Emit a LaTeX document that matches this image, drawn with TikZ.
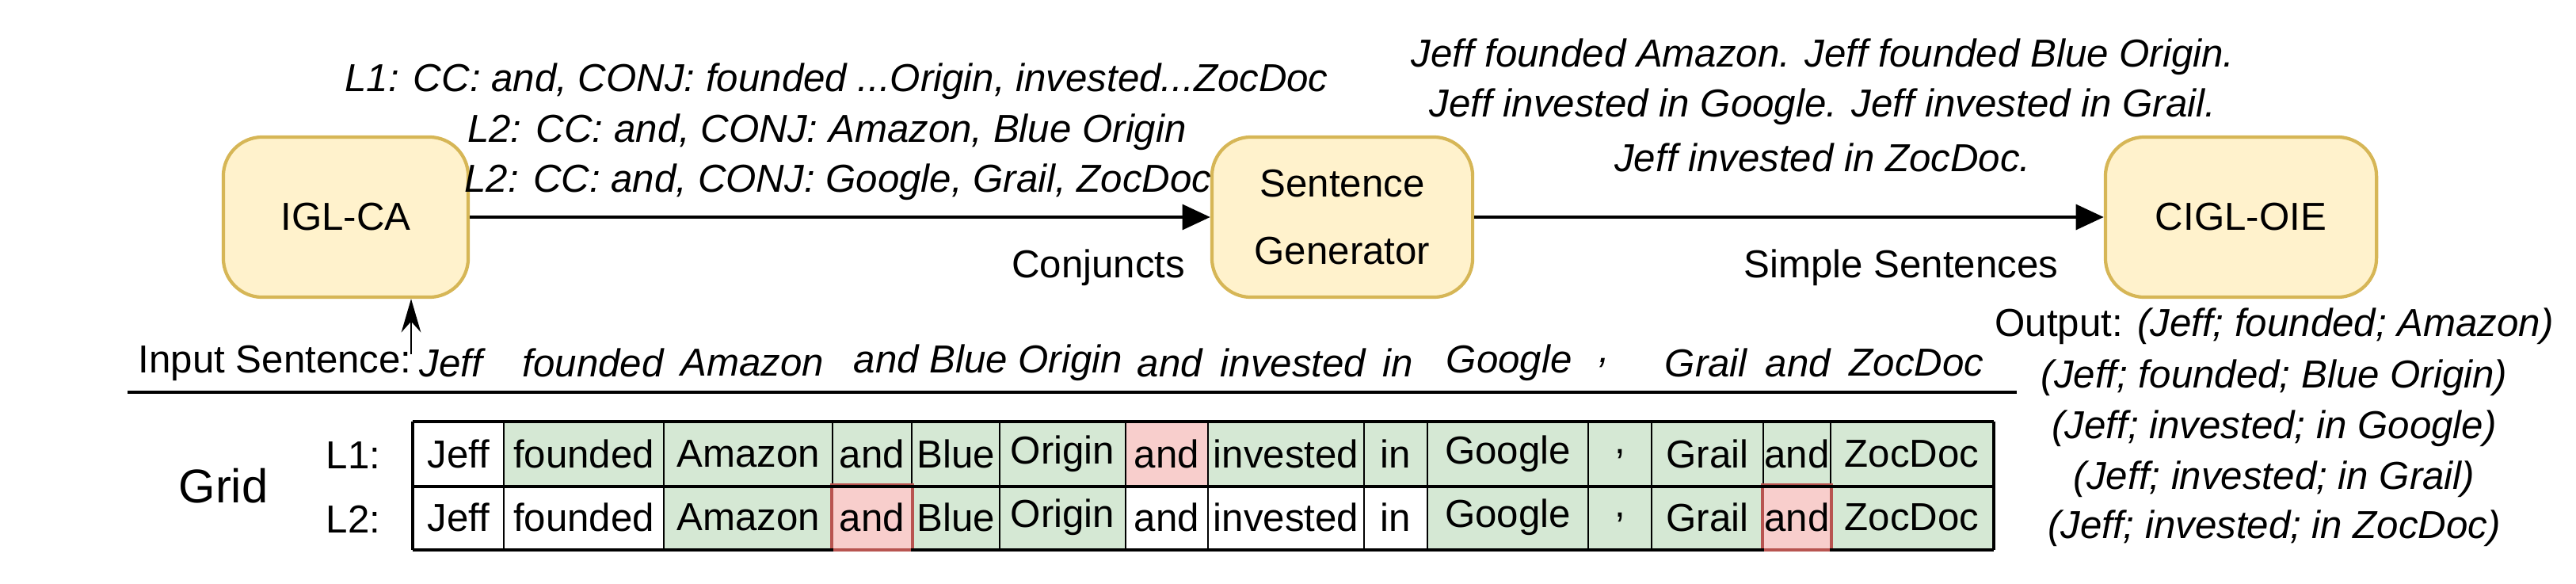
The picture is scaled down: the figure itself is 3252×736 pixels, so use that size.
\documentclass[tikz,border=0pt]{standalone}
\usepackage{fontspec}
\setmainfont{Liberation Sans}
\usetikzlibrary{arrows.meta}
\definecolor{boxfill}{HTML}{FFF2CC}
\definecolor{boxdraw}{HTML}{D6B656}
\definecolor{gfill}{HTML}{D5E8D4}
\definecolor{rfill}{HTML}{F8CECC}
\definecolor{rdraw}{HTML}{B85450}
\tikzset{
  proc/.style={draw=boxdraw, fill=boxfill, line width=1.2pt, rounded corners=14pt, align=center, font=\fontsize{14}{24}\selectfont},
  lbl/.style={font=\fontsize{14}{17}\selectfont, inner sep=0pt},
  ilbl/.style={font=\fontsize{14}{17}\selectfont\itshape, inner sep=0pt},
  flow/.style={line width=1.2pt, -{Triangle[length=10pt,width=9pt]}},
  cell/.style={draw=black, line width=0.6pt, inner sep=0pt, font=\fontsize{14}{17}\selectfont},
}
\begin{document}
\begin{tikzpicture}[x=0.01cm,y=-0.01cm]
\useasboundingbox (0,0) rectangle (3252,736);
% boxes
\node[proc, minimum width=3.09cm, minimum height=2.02cm] (igl) at (436.5,274) {IGL-CA};
\node[proc, minimum width=3.29cm, minimum height=2.02cm] (gen) at (1694.5,274) {Sentence\\Generator};
\node[proc, minimum width=3.42cm, minimum height=2.02cm] (oie) at (2829,274) {CIGL-OIE};
\draw[flow] (igl) -- (gen);
\draw[flow] (gen) -- (oie);
% arrow labels
\node[ilbl] (c1) at (1056,103) {L1: CC: and, CONJ: founded ...Origin, invested...ZocDoc};
\node[ilbl] (c2) at (1044,167) {L2: CC: and, CONJ: Amazon, Blue Origin};
\node[ilbl] (c3) at (1058,230) {L2: CC: and, CONJ: Google, Grail, ZocDoc};
\node[lbl, anchor=east] (conj) at (1497,338) {Conjuncts};
\node[ilbl] (s1) at (2301,72) {Jeff founded Amazon. Jeff founded Blue Origin.};
\node[ilbl] (s2) at (2301,135) {Jeff invested in Google. Jeff invested in Grail.};
\node[ilbl] (s3) at (2301,199) {Jeff invested in ZocDoc.};
\node[lbl] (simp) at (2400,338) {Simple Sentences};
% output
\node[lbl] (o1) at (2871,412) {Output: \textit{(Jeff; founded; Amazon)}};
\node[ilbl] (o2) at (2871,477) {(Jeff; founded; Blue Origin)};
\node[ilbl] (o3) at (2871,541) {(Jeff; invested; in Google)};
\node[ilbl] (o4) at (2871,605) {(Jeff; invested; in Grail)};
\node[ilbl] (o5) at (2871,667) {(Jeff; invested; in ZocDoc)};
% input sentence
\node[lbl, anchor=west] (inp) at (174,458) {Input Sentence:};
\foreach \x/\w [count=\k] in {529/Jeff,659/founded,859/Amazon,1077/and Blue Origin,1435/and,1540/invested,1745/in,1825/Google,2018/{,},2101/Grail,2228/and,2334/ZocDoc}
  \node[ilbl, anchor=west] (iw\k) at (\x,458) {\w};
\coordinate (inpar) at (519,447);
\draw[line width=0.6pt, -{Stealth[length=12pt,width=7pt]}] (inpar) -- (igl.south -| inpar);
\coordinate (ln1) at (161,495);
\coordinate (ln2) at (2546,495);
\draw[line width=1.3pt] (ln1) -- (ln2);
% grid
\node[lbl, font=\fontsize{17}{20}\selectfont] (grid) at (282,613) {Grid};
\node[lbl] (l1) at (446,575) {L1:};
\node[lbl] (l2) at (446,655) {L2:};
\foreach \l/\r/\w/\ca/\cb [count=\k] in {
 522/636/Jeff/white/white,
 636/838/founded/gfill/white,
 838/1051/Amazon/gfill/gfill,
 1051/1151/and/gfill/rfill,
 1151/1262/Blue/gfill/gfill,
 1262/1421/Origin/gfill/gfill,
 1421/1525/and/rfill/white,
 1525/1722/invested/gfill/white,
 1722/1802/in/gfill/white,
 1802/2005/Google/gfill/gfill,
 2005/2085/{,}/gfill/gfill,
 2085/2226/Grail/gfill/gfill,
 2226/2311/and/gfill/rfill,
 2311/2516/ZocDoc/gfill/gfill}{
  \pgfmathsetmacro{\cw}{(\r-\l)/100}
  \node[cell, fill=\ca, minimum width=\cw cm, minimum height=0.8cm] (a\k) at ({(\l+\r)/2},573) {\w};
  \node[cell, fill=\cb, minimum width=\cw cm, minimum height=0.8cm] (b\k) at ({(\l+\r)/2},653) {\w};
}
\draw[rdraw, line width=1.2pt] (b4.north west) rectangle (b4.south east);
\draw[rdraw, line width=1.2pt] (b13.north west) rectangle (b13.south east);
\draw[line width=1.3pt] (a1.north west) -- (a14.north east);
\draw[line width=1.3pt] (a1.south west) -- (a14.south east);
\draw[line width=1.3pt] (b1.south west) -- (b3.south east) (b5.south west) -- (b12.south east) (b14.south west) -- (b14.south east);
\draw[line width=1.3pt] (a1.north west) -- (b1.south west) (a14.north east) -- (b14.south east);
\end{tikzpicture}
\end{document}
